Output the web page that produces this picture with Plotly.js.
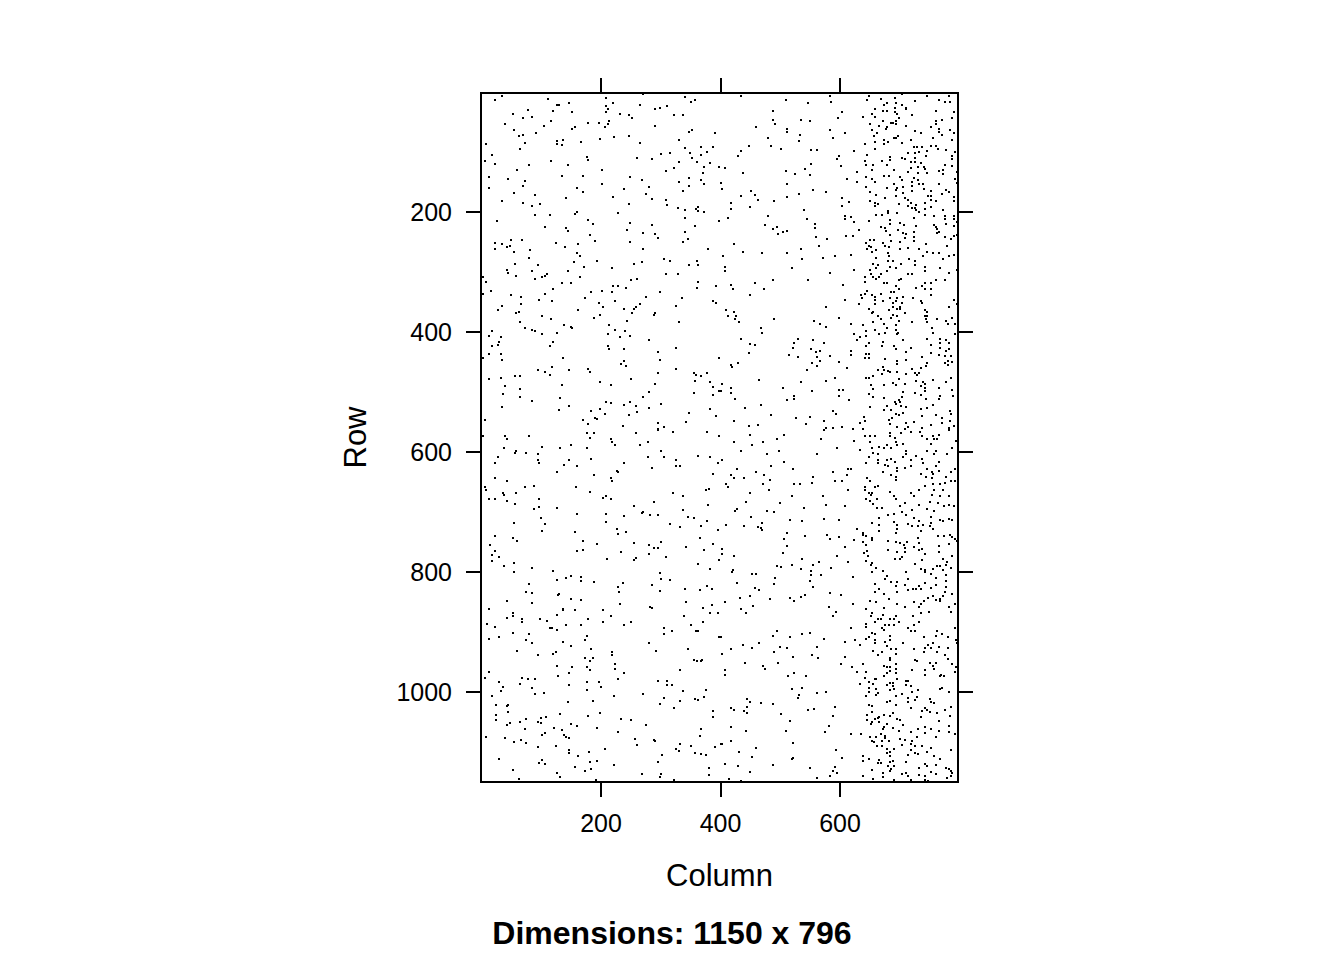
<!DOCTYPE html>
<html><head><meta charset="utf-8">
<script src="https://cdn.plot.ly/plotly-3.0.1.min.js"></script>
<style>html,body{margin:0;padding:0;background:#fff}#c{width:1344px;height:960px}.scatterlayer path.point{shape-rendering:crispEdges}</style>
</head><body><div id="c"></div>
<script>
const xTickValues=[200,400,600];
const yTickValues=[200,400,600,800,1000];
const chartTitle="Dimensions: 1150 x 796";
const upperLeft=[[34,6],[23,13],[111,11],[208,10],[271,4],[316,3],[340,9],[350,16],[358,14],[126,22],[130,21],[147,19],[209,24],[211,28],[220,19],[265,21],[290,29],[299,26],[310,24],[77,30],[52,36],[119,31],[151,33],[208,34],[231,36],[246,38],[252,43],[322,39],[337,39],[69,44],[84,41],[39,53],[117,49],[104,56],[178,51],[196,51],[214,48],[211,54],[206,59],[156,58],[151,61],[291,56],[55,63],[69,71],[62,74],[91,69],[347,66],[353,64],[391,69],[246,73],[222,75],[199,78],[126,81],[136,80],[127,86],[134,88],[166,83],[72,85],[7,86],[266,85],[330,80],[65,95],[367,91],[387,91],[341,93],[377,100],[349,101],[367,105],[316,101],[300,103],[17,105],[352,110],[261,110],[285,111],[176,108],[178,113],[116,115],[5,115],[330,116],[360,116],[382,118],[22,120],[79,121],[144,121],[372,125],[398,125],[322,126],[59,130],[201,130],[308,131],[371,135],[12,141],[134,140],[170,140],[248,141],[347,143],[45,145],[268,146],[368,146],[72,148],[330,150],[400,151],[201,153],[69,156],[347,156],[372,154],[12,160],[159,160],[280,158],[238,161],[337,165],[54,168],[169,166],[276,170],[89,171],[141,176],[220,175],[285,178],[309,180],[34,181],[70,185],[98,186],[246,186],[311,188],[85,190],[328,193],[340,196],[362,191],[359,195],[362,198],[372,200],[159,200],[156,203],[228,201],[90,205],[114,205],[340,210],[26,215],[178,213],[397,215],[186,220],[248,218],[285,221],[357,223],[106,225],[141,226],[144,231],[244,230],[271,235],[291,236],[340,233],[181,238],[295,243],[345,245],[49,246],[67,246],[190,248],[249,250],[337,250],[22,251],[35,253],[124,251],[161,254],[47,256],[42,259],[139,258],[23,261],[270,261],[379,261]];
const upperRight=[[434,6],[584,6],[649,6],[704,4],[715,3],[746,6],[783,6],[509,14],[547,18],[585,16],[645,13],[669,11],[692,10],[725,15],[765,14],[775,17],[784,16],[673,21],[678,19],[694,19],[703,21],[692,26],[711,26],[710,29],[487,31],[658,29],[672,31],[678,32],[692,34],[696,36],[760,31],[791,34],[603,34],[654,36],[720,39],[658,41],[638,41],[699,43],[597,44],[487,46],[535,46],[549,49],[787,44],[797,41],[771,46],[760,48],[672,49],[685,51],[689,51],[694,48],[651,53],[492,54],[693,54],[710,56],[761,54],[665,56],[678,59],[677,61],[459,59],[511,61],[511,66],[753,59],[765,61],[654,63],[584,64],[608,68],[725,65],[735,69],[765,66],[784,64],[790,68],[533,71],[771,71],[662,69],[657,73],[697,73],[693,76],[690,76],[480,76],[588,76],[756,76],[531,81],[673,80],[673,86],[681,83],[658,83],[719,80],[788,80],[641,86],[704,85],[484,90],[447,90],[752,90],[760,90],[723,92],[729,91],[737,91],[658,95],[501,95],[551,96],[562,96],[764,95],[777,96],[434,98],[623,99],[746,98],[793,100],[733,100],[726,101],[714,101],[430,106],[645,105],[599,106],[595,111],[787,106],[704,110],[709,111],[684,108],[726,110],[744,106],[788,111],[641,115],[670,115],[683,113],[719,116],[726,116],[735,118],[551,120],[678,121],[644,121],[656,121],[601,123],[731,125],[740,125],[775,121],[787,123],[408,126],[541,128],[654,130],[690,130],[718,126],[714,133],[742,128],[766,132],[773,130],[509,131],[629,133],[795,133],[437,135],[524,136],[549,138],[731,135],[773,136],[746,135],[673,140],[682,140],[643,141],[700,141],[724,143],[611,145],[653,145],[793,145],[704,146],[730,146],[628,150],[658,150],[720,150],[690,153],[795,151],[511,154],[733,154],[766,154],[739,153],[400,151],[402,161],[643,158],[695,160],[705,158],[678,160],[720,156],[451,165],[554,163],[577,166],[651,166],[693,163],[740,161],[721,165],[752,165],[777,163],[705,168],[782,166],[457,171],[434,173],[511,175],[532,170],[661,171],[676,176],[694,174],[708,177],[747,173],[753,173],[771,170],[791,175],[603,176],[462,180],[490,181],[615,183],[650,181],[714,180],[753,180],[418,185],[760,181],[791,181],[658,185],[663,186],[698,186],[604,190],[449,191],[658,190],[718,185],[742,185],[714,190],[418,195],[539,196],[752,191],[773,196],[742,195],[721,193],[726,193],[727,196],[727,189],[732,200],[680,201],[681,199],[695,201],[661,205],[670,205],[480,206],[609,206],[618,208],[723,210],[757,206],[776,206],[791,206],[743,205],[413,210],[544,211],[609,211],[684,213],[648,215],[623,216],[775,211],[791,211],[795,216],[684,220],[700,218],[707,221],[558,220],[475,221],[757,221],[727,223],[777,220],[791,223],[494,225],[487,228],[558,226],[668,225],[675,226],[761,225],[762,228],[631,230],[511,231],[504,234],[497,236],[697,230],[723,233],[677,231],[765,233],[763,235],[705,235],[710,236],[684,238],[610,240],[622,240],[559,241],[723,241],[776,241],[791,240],[795,238],[708,243],[579,245],[651,246],[657,246],[685,248],[723,249],[786,245],[422,253],[644,251],[672,251],[700,250],[565,256],[649,256],[652,259],[676,256],[682,258],[744,253],[779,256],[535,261],[645,261],[733,261],[701,261],[713,260]];
const middleLeft=[[55,266],[81,264],[160,269],[164,273],[79,276],[306,278],[316,281],[361,281],[154,283],[194,281],[56,286],[95,288],[255,286],[268,284],[348,288],[362,289],[171,291],[218,293],[42,296],[85,298],[144,299],[45,301],[109,303],[107,306],[309,303],[329,304],[57,306],[164,308],[101,309],[89,311],[2,308],[250,313],[261,311],[7,316],[134,318],[150,319],[362,316],[220,324],[229,323],[242,326],[392,323],[361,326],[119,328],[16,331],[184,333],[202,331],[218,334],[298,333],[2,336],[106,336],[49,338],[66,341],[275,341],[335,343],[174,344],[97,346],[118,348],[224,349],[196,351],[387,348],[392,351],[266,353],[66,354],[35,356],[326,356],[204,359],[258,358],[256,361],[238,361],[28,363],[161,363],[62,366],[57,369],[252,368],[290,368],[288,371],[198,371],[101,374],[188,376],[116,379],[244,381],[64,383],[330,383],[138,388],[214,388],[149,391],[152,393],[72,394],[85,396],[90,398],[224,396],[240,398],[18,399],[126,401],[101,403],[211,403],[12,406],[248,406],[32,408],[231,408],[280,413],[30,416],[119,416],[27,421],[114,423],[211,423],[17,424],[214,428],[325,426],[239,429],[295,433],[13,436],[32,436],[3,443],[397,443],[136,444],[34,446],[298,446],[239,448],[234,453],[242,456],[118,458],[178,461],[326,461],[95,463],[146,464],[181,466],[107,466],[295,469],[355,468],[114,471],[359,471],[367,473],[378,468],[64,473],[56,474],[32,476],[13,478],[251,478],[357,481],[382,483],[198,484],[291,486],[134,488],[216,488],[39,490],[388,491],[64,495],[398,498],[280,500],[355,501],[36,503],[387,505],[64,508],[270,508],[131,510],[85,515],[208,516],[217,518],[248,516],[238,521],[258,523],[301,520],[147,523],[34,525],[281,526],[199,528],[382,528],[129,530],[184,531],[260,533],[347,535],[206,536],[246,538],[392,540],[190,543],[194,545],[5,546],[170,546],[178,553],[342,550],[295,551],[236,556],[306,558],[295,561]];
const middleRight=[[437,266],[469,268],[512,268],[404,273],[571,276],[591,273],[619,271],[537,278],[654,266],[660,264],[680,269],[682,273],[660,276],[746,266],[755,268],[765,268],[739,273],[782,274],[772,278],[791,271],[681,281],[688,281],[715,279],[726,281],[702,286],[656,286],[663,288],[726,288],[407,291],[519,294],[623,296],[684,291],[693,293],[651,296],[660,293],[742,291],[742,298],[767,294],[795,296],[408,298],[678,299],[583,301],[783,301],[652,303],[669,303],[714,303],[720,304],[642,308],[656,308],[666,308],[661,311],[702,311],[487,313],[547,314],[698,314],[760,313],[775,314],[641,316],[457,318],[673,318],[678,319],[742,319],[753,318],[417,321],[605,321],[693,324],[737,323],[421,328],[472,329],[728,326],[743,328],[698,329],[645,331],[685,333],[690,333],[753,329],[641,336],[635,338],[653,338],[668,336],[449,339],[752,339],[797,338],[636,343],[683,344],[658,341],[696,343],[705,341],[722,343],[608,346],[658,346],[672,348],[736,348],[737,351],[791,346],[688,351],[693,349],[704,351],[631,353],[658,354],[795,353],[577,358],[648,361],[701,358],[688,359],[695,361],[701,361],[682,363],[782,358],[410,364],[422,366],[656,366],[654,369],[709,368],[688,371],[742,364],[745,366],[412,373],[599,376],[424,378],[426,373],[685,376],[696,373],[742,373],[746,373],[663,373],[744,378],[490,378],[762,378],[668,379],[698,381],[557,381],[787,376],[777,381],[431,384],[745,384],[655,383],[720,383],[673,386],[567,386],[618,386],[694,388],[781,386],[792,386],[638,389],[577,391],[467,393],[678,393],[754,393],[659,396],[694,397],[644,399],[469,401],[666,403],[675,401],[697,401],[756,401],[624,404],[793,404],[643,406],[696,404],[796,408],[434,411],[529,411],[633,409],[555,413],[629,414],[705,413],[746,411],[768,411],[777,413],[796,414],[523,418],[574,418],[672,416],[767,418],[450,420],[457,421],[648,418],[753,421],[782,418],[691,423],[644,424],[670,423],[521,426],[718,426],[694,428],[767,426],[552,428],[782,428],[559,433],[567,431],[618,431],[447,435],[710,433],[778,431],[618,438],[643,436],[649,436],[752,435],[765,438],[775,440],[514,438],[583,440],[529,441],[562,441],[785,440],[642,443],[649,443],[737,441],[675,445],[566,448],[599,450],[695,448],[553,451],[710,446],[780,448],[429,451],[745,451],[744,456],[696,453],[775,451],[781,455],[418,455],[420,458],[561,456],[788,450],[611,460],[672,458],[797,458],[544,463],[663,463],[673,464],[681,465],[695,466],[720,461],[735,460],[670,470],[683,466],[710,470],[726,468],[729,471],[733,468],[656,473],[644,477],[649,476],[464,480],[592,476],[577,481],[699,478],[756,480],[786,476],[728,481],[739,483],[535,483],[777,483],[403,486],[652,488],[673,488],[688,485],[694,488],[708,486],[735,490],[742,486],[504,493],[417,493],[655,495],[766,493],[788,496],[599,496],[605,496],[553,498],[742,493],[706,500],[726,501],[742,498],[400,498],[418,501],[649,503],[736,505],[789,506],[598,506],[523,506],[656,508],[704,508],[767,506],[425,511],[512,513],[523,511],[615,513],[674,510],[744,511],[766,511],[699,513],[692,516],[694,520],[701,516],[468,521],[756,521],[650,525],[441,526],[678,523],[702,523],[710,525],[735,528],[746,526],[784,531],[588,532],[593,536],[673,530],[693,536],[698,538],[706,535],[685,530],[484,538],[785,536],[527,543],[549,541],[640,541],[687,543],[737,540],[760,538],[770,543],[682,546],[574,548],[422,548],[641,548],[771,551],[784,548],[543,553],[634,551],[683,553],[710,551],[723,550],[752,555],[447,556],[462,555],[577,560],[588,560],[604,558],[621,561],[638,561],[695,558],[709,561],[714,558],[738,560],[783,560],[791,557]];
const lowerMiddleLeft=[[2,574],[39,573],[42,579],[79,573],[176,569],[188,568],[181,576],[258,568],[295,563],[320,566],[377,566],[397,574],[216,579],[219,584],[224,589],[266,588],[278,584],[101,591],[149,589],[176,593],[131,593],[37,594],[57,599],[56,602],[75,601],[94,604],[300,598],[27,608],[279,608],[306,609],[363,606],[382,609],[184,611],[94,613],[147,613],[22,618],[97,618],[326,614],[138,621],[238,619],[395,619],[159,624],[285,626],[325,623],[332,623],[226,631],[228,633],[126,634],[388,636],[188,639],[216,643],[23,644],[218,648],[42,649],[88,656],[72,659],[158,659],[6,658],[8,664],[380,661],[375,664],[36,668],[37,671],[57,668],[181,666],[321,669],[208,674],[204,676],[338,674],[13,679],[23,678],[97,678],[42,681],[216,679],[288,684],[56,686],[379,688],[256,690],[97,691],[126,693],[87,695],[337,696],[270,700],[269,701],[159,703],[209,703],[282,705],[296,705],[239,706],[345,708],[355,710],[99,710],[209,716],[377,715],[54,718],[107,720],[316,720],[367,723],[332,725],[226,728],[395,730],[101,731],[156,733],[242,733],[228,736],[23,740],[52,743],[366,743],[59,748],[169,748],[255,751],[300,750],[194,753],[387,753],[15,755],[280,755],[342,758],[289,760],[295,760],[372,763],[23,765],[159,765],[169,763],[234,766],[280,770],[18,771],[29,775],[308,775],[210,778],[259,776],[256,780],[397,780],[17,781],[54,785],[362,786],[37,790],[84,793],[382,795],[119,798],[54,800],[298,801],[150,806],[141,810],[166,808],[301,811],[315,813],[126,813],[166,815],[188,816],[236,818],[79,820],[285,821],[229,825],[378,823],[340,828],[365,830],[385,828],[299,831],[75,833],[85,835],[230,833],[130,836],[128,839],[150,845],[167,846],[42,848],[85,851],[343,850],[232,853],[385,855],[282,858],[286,860],[371,860],[13,861],[137,862]];
const lowerMiddleRight=[[449,571],[507,571],[574,564],[494,578],[569,578],[422,583],[471,583],[623,581],[452,588],[641,574],[651,573],[658,573],[684,568],[683,574],[692,576],[702,568],[718,566],[734,566],[738,574],[755,573],[766,571],[782,564],[757,579],[746,578],[763,578],[794,581],[651,583],[693,584],[705,586],[752,586],[595,594],[634,596],[653,594],[665,591],[673,593],[678,589],[685,593],[695,589],[498,598],[434,599],[787,594],[711,598],[746,599],[761,598],[656,601],[478,604],[562,603],[663,604],[710,604],[757,604],[779,603],[648,608],[706,608],[728,606],[663,613],[678,613],[685,611],[719,613],[737,611],[402,614],[507,616],[643,618],[663,618],[692,616],[739,618],[766,616],[675,621],[719,623],[681,624],[484,624],[695,626],[708,626],[760,624],[521,628],[618,628],[614,629],[746,629],[792,628],[427,629],[589,633],[672,634],[695,631],[754,634],[765,631],[786,633],[459,634],[611,638],[735,636],[756,636],[473,638],[417,639],[685,639],[693,641],[744,641],[754,643],[778,641],[555,641],[422,643],[439,644],[645,644],[483,646],[693,646],[591,648],[604,649],[651,649],[553,651],[786,648],[792,649],[471,653],[523,653],[533,654],[756,653],[768,653],[775,651],[410,654],[412,658],[642,658],[663,656],[658,659],[742,656],[481,663],[613,663],[642,664],[683,666],[733,663],[757,663],[772,663],[449,669],[649,668],[654,668],[652,671],[719,669],[519,673],[571,673],[691,674],[724,673],[754,671],[768,673],[783,673],[644,678],[694,678],[651,681],[662,678],[442,683],[499,685],[708,685],[750,683],[764,685],[656,686],[577,688],[609,690],[733,688],[774,690],[701,690],[783,688],[539,693],[662,693],[671,693],[745,695],[790,690],[428,695],[424,698],[477,698],[489,700],[691,703],[704,700],[710,705],[721,696],[757,698],[681,705],[724,710],[451,708],[752,708],[665,710],[574,711],[598,713],[517,713],[537,715],[768,713],[772,715],[783,711],[787,713],[733,715],[690,716],[653,718],[469,718],[714,720],[752,718],[665,721],[410,721],[440,723],[720,723],[696,721],[739,721],[750,723],[730,723],[462,725],[467,726],[469,730],[629,728],[696,728],[755,728],[796,728],[666,731],[735,731],[694,735],[511,735],[639,735],[579,738],[638,738],[541,740],[599,741],[644,740],[764,740],[774,740],[784,738],[788,741],[507,745],[583,745],[623,746],[653,743],[730,743],[797,736],[654,747],[681,748],[694,750],[638,750],[792,745],[795,748],[701,751],[712,750],[733,751],[644,755],[512,756],[609,758],[707,755],[708,760],[724,758],[732,763],[738,761],[766,756],[783,753],[403,761],[681,763],[766,766],[645,765],[640,768],[695,766],[402,770],[504,768],[646,773],[709,766],[422,773],[595,773],[742,770],[788,773],[692,778],[701,778],[703,775],[537,778],[738,780],[773,778],[643,781],[613,783],[564,783],[654,785],[779,783],[726,786],[555,788],[519,788],[652,788],[777,788],[494,790],[501,792],[660,793],[763,790],[767,790],[735,795],[785,793],[535,795],[585,793],[756,795],[743,796],[742,800],[551,798],[421,797],[419,800],[672,798],[710,800],[772,796],[653,800],[452,803],[460,803],[551,805],[569,805],[752,803],[778,805],[621,808],[678,806],[491,810],[760,810],[675,811],[713,811],[549,815],[685,816],[695,816],[777,815],[427,818],[489,820],[658,820],[694,823],[708,821],[733,823],[743,818],[753,826],[760,821],[555,825],[457,826],[777,825],[464,830],[714,830],[722,828],[728,828],[735,828],[665,828],[695,833],[658,834],[584,835],[673,836],[601,838],[775,833],[787,836],[450,840],[535,841],[542,838],[517,843],[432,843],[483,845],[523,848],[682,845],[747,843],[755,840],[768,845],[772,840],[760,846],[408,850],[651,848],[660,850],[724,850],[740,848],[767,848],[622,853],[695,853],[735,853],[792,853],[454,856],[582,858],[783,858],[643,861],[732,858],[708,859],[435,861],[673,860]];
const lowerLeft=[[52,868],[126,871],[137,863],[156,864],[204,864],[216,873],[382,869],[395,869],[42,876],[52,874],[67,878],[98,878],[109,881],[68,884],[178,879],[204,884],[251,883],[339,874],[371,883],[9,886],[22,891],[141,888],[166,889],[238,889],[351,888],[114,893],[118,894],[127,896],[306,893],[319,898],[359,898],[362,899],[52,901],[79,904],[176,906],[306,904],[13,911],[29,909],[398,909],[75,914],[136,916],[174,914],[85,919],[280,918],[149,923],[184,928],[292,931],[345,929],[59,931],[124,934],[119,936],[219,934],[218,938],[95,939],[174,943],[186,944],[181,948],[356,946],[361,949],[369,946],[368,949],[224,954],[127,956],[176,959],[151,959],[224,961],[181,964],[332,963],[13,966],[239,968],[146,969],[128,974],[5,976],[68,976],[228,978],[77,979],[89,979],[29,983],[176,984],[295,981],[311,981],[196,984],[64,986],[146,988],[200,991],[310,989],[319,989],[36,991],[85,994],[176,996],[337,998],[375,996],[32,999],[104,1001],[89,1004],[270,1003],[17,1006],[222,1006],[305,1010],[372,1008],[357,1011],[362,1013],[186,1015],[144,1016],[332,1015],[299,1020],[25,1021],[42,1023],[45,1021],[322,1026],[44,1033],[387,1031],[198,1035],[131,1036],[24,1038],[178,1040],[387,1041],[100,1043],[108,1041],[74,1045],[24,1046],[234,1045],[250,1046],[64,1050],[95,1050],[47,1051],[99,1051],[42,1055],[149,1053],[159,1056],[275,1055],[121,1060],[194,1060],[72,1061],[368,1061],[134,1063],[229,1066],[107,1068],[101,1071],[138,1071],[141,1075],[146,1076],[365,1073],[8,1075],[39,1076],[257,1078],[54,1083],[66,1080],[289,1080],[291,1081],[75,1085],[332,1086],[260,1088],[124,1090],[95,1091],[350,1090],[390,1091],[206,1095],[400,1086],[147,1096],[325,1095],[330,1098],[180,1100],[147,1101],[357,1101],[367,1103],[375,1105],[161,1106],[302,1105],[29,1111],[101,1113],[194,1115],[181,1116],[97,1118],[106,1120],[295,1116],[221,1121],[157,1125],[380,1126],[184,1128],[52,1130],[174,1131],[126,1135],[268,1136],[301,1136],[381,1138],[131,1141],[299,1141],[62,1145],[191,1146],[322,1146]];
const lowerRight=[[442,868],[588,873],[594,866],[653,868],[672,871],[683,879],[694,873],[722,874],[736,869],[749,866],[786,866],[652,874],[663,878],[668,879],[690,879],[699,883],[732,883],[658,884],[644,886],[675,888],[682,889],[691,888],[724,888],[644,891],[671,893],[673,896],[714,893],[619,894],[792,894],[719,898],[726,899],[762,899],[494,899],[549,901],[537,903],[654,901],[771,903],[487,906],[517,908],[658,904],[683,906],[761,906],[400,909],[574,911],[643,911],[648,909],[625,913],[740,909],[780,909],[658,914],[675,916],[684,914],[705,918],[608,916],[794,913],[795,919],[437,921],[464,919],[633,921],[658,919],[747,921],[755,919],[766,925],[452,926],[499,925],[511,926],[561,925],[678,923],[742,926],[752,926],[781,926],[417,929],[685,928],[723,929],[694,929],[489,933],[656,931],[740,933],[762,934],[797,933],[402,936],[671,934],[694,936],[553,939],[608,941],[521,941],[663,939],[776,939],[563,944],[684,943],[683,946],[781,945],[726,946],[729,948],[441,951],[497,951],[601,953],[750,951],[761,951],[787,953],[471,956],[673,956],[694,954],[474,961],[620,958],[639,954],[678,959],[684,959],[694,961],[755,956],[757,961],[794,958],[797,954],[720,963],[742,964],[407,964],[628,966],[643,966],[684,965],[678,968],[694,968],[793,966],[408,971],[523,969],[513,973],[543,974],[674,973],[742,971],[641,976],[767,973],[769,971],[774,974],[658,978],[661,979],[695,978],[710,981],[714,981],[648,983],[656,986],[633,986],[683,985],[688,985],[678,988],[710,988],[718,990],[519,995],[537,993],[767,995],[771,993],[796,986],[649,993],[661,995],[688,990],[684,996],[690,995],[731,996],[648,1000],[562,1001],[577,1000],[720,1000],[663,1001],[661,1005],[703,1003],[694,1006],[532,1005],[529,1010],[644,1006],[782,1000],[714,1010],[729,1008],[444,1011],[750,1011],[726,1013],[450,1016],[467,1018],[678,1016],[684,1015],[752,1016],[757,1018],[713,1016],[487,1020],[648,1021],[653,1023],[694,1021],[444,1025],[417,1026],[423,1030],[591,1025],[547,1030],[557,1028],[718,1026],[743,1026],[737,1031],[746,1030],[439,1031],[444,1035],[653,1033],[750,1033],[776,1030],[785,1025],[502,1036],[645,1038],[688,1035],[666,1041],[673,1038],[683,1040],[735,1041],[784,1040],[588,1040],[763,1035],[658,1045],[663,1043],[645,1046],[695,1045],[700,1046],[517,1048],[654,1050],[666,1050],[652,1053],[678,1053],[673,1058],[672,1061],[705,1055],[765,1048],[581,1056],[742,1058],[782,1056],[417,1058],[688,1060],[730,1061],[753,1061],[442,1065],[509,1065],[575,1066],[765,1065],[782,1066],[698,1065],[668,1070],[618,1070],[635,1070],[718,1066],[742,1068],[792,1070],[675,1073],[676,1076],[651,1075],[661,1075],[701,1078],[729,1075],[761,1075],[418,1081],[653,1081],[657,1083],[709,1080],[522,1085],[402,1086],[670,1081],[682,1081],[720,1081],[718,1086],[704,1088],[725,1090],[737,1090],[662,1090],[671,1090],[459,1093],[753,1093],[719,1096],[678,1095],[691,1095],[593,1096],[786,1096],[431,1100],[678,1101],[684,1100],[726,1101],[730,1103],[746,1100],[714,1105],[639,1106],[453,1108],[757,1106],[797,1106],[683,1106],[603,1110],[522,1110],[519,1111],[648,1111],[665,1113],[767,1111],[639,1115],[688,1115],[683,1116],[710,1116],[663,1118],[668,1118],[407,1120],[487,1121],[742,1120],[760,1121],[797,1121],[430,1123],[680,1123],[690,1123],[745,1123],[549,1126],[591,1125],[685,1128],[684,1131],[733,1126],[777,1126],[783,1128],[653,1130],[450,1133],[588,1131],[595,1135],[672,1135],[703,1136],[711,1135],[752,1133],[785,1131],[788,1135],[638,1140],[584,1140],[713,1140],[733,1138],[672,1141],[742,1140],[760,1136],[785,1140],[797,1140],[562,1143],[414,1145],[656,1145],[691,1146],[718,1146],[742,1146],[747,1148],[779,1143],[434,1148]];

const entries=[...upperLeft,...upperRight,...middleLeft,...middleRight,...lowerMiddleLeft,...lowerMiddleRight,...lowerLeft,...lowerRight];
const fontFamily='"Liberation Sans", Arial, sans-serif';
const axisCommon={showgrid:false,zeroline:false,showline:true,linecolor:'#000',linewidth:2,mirror:'ticks',ticks:'outside',ticklen:14,tickwidth:2,tickcolor:'#000',tickmode:'array',tickfont:{family:fontFamily,size:25,color:'#000'}};
Plotly.newPlot('c',[{type:'scatter',mode:'markers',x:entries.map(e=>e[0]),y:entries.map(e=>e[1]),hoverinfo:'skip',cliponaxis:false,
  marker:{symbol:'square',size:2,color:'#000',line:{width:0}}}],{
  width:1344,height:960,paper_bgcolor:'#fff',plot_bgcolor:'#fff',showlegend:false,
  margin:{l:482,r:387,t:94,b:179,pad:0},
  title:{text:chartTitle,font:{family:fontFamily,size:32,color:'#000',weight:700},x:0.5,xref:'container',xanchor:'center',y:1-933/960,yref:'container',yanchor:'middle'},
  xaxis:{...axisCommon,range:[0.8,795.8],tickvals:xTickValues,ticktext:xTickValues.map(String),ticklabelstandoff:5,title:{text:'Column',font:{family:fontFamily,size:31,color:'#000'},standoff:28}},
  yaxis:{...axisCommon,range:[1148.3,3.3],tickvals:yTickValues,ticktext:yTickValues.map(String),ticklabelstandoff:9,title:{text:'Row',font:{family:fontFamily,size:31,color:'#000'},standoff:21}}
},{displayModeBar:false,staticPlot:true});
</script></body></html>
